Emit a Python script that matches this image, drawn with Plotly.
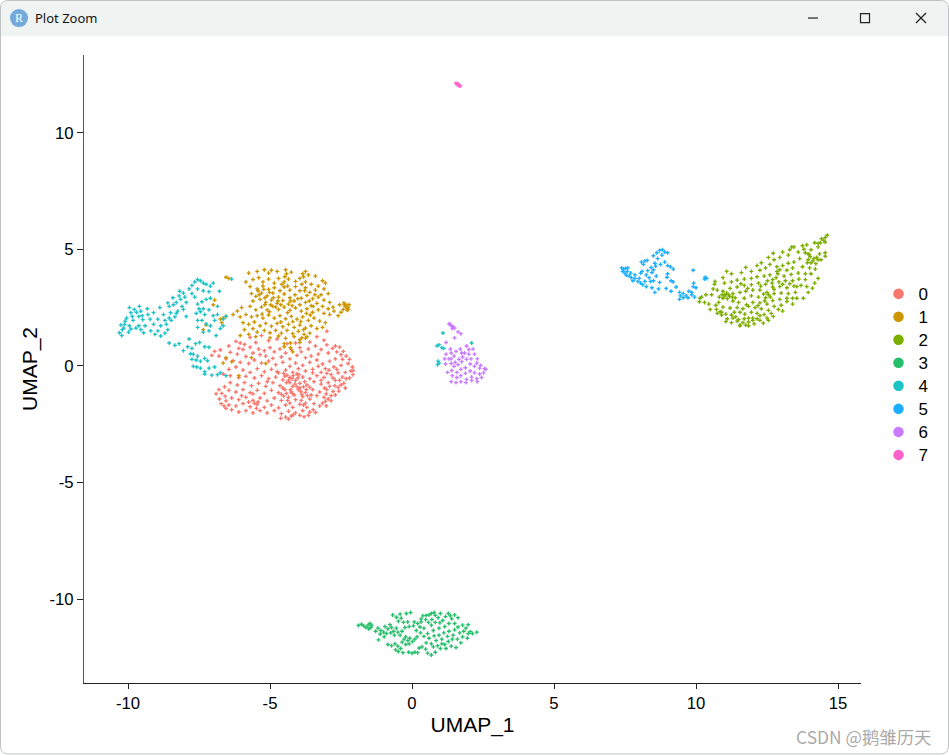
import plotly.graph_objects as go

# points, one list per cluster (UMAP_1, UMAP_2)
cluster_0 = [
    (-3.0,1.48),(-3.35,1.25),(-3.1,1.1),(-3.6,1.02),(-5.7,1.22),(-6.2,1.05),(-6.05,0.98),(-5.9,0.92),(-5.5,1.0),(-5.3,1.3),
    (-5.05,1.08),(-4.75,1.15),(-4.4,0.95),(-4.1,0.98),(-3.95,0.78),(-6.45,0.85),(-6.1,0.75),(-5.95,0.7),(-5.7,0.8),(-5.4,0.72),
    (-5.2,0.65),(-5.0,0.78),(-4.85,0.6),(-4.65,0.72),(-4.45,0.55),(-4.25,0.7),(-3.9,0.6),(-3.65,0.72),(-3.4,0.85),(-3.2,0.7),
    (-3.0,0.9),(-2.8,0.75),(-2.65,0.6),(-2.95,0.55),(-3.3,0.5),(-3.55,0.42),(-3.75,0.35),(-4.05,0.45),(-4.3,0.3),(-4.6,0.38),
    (-4.9,0.32),(-5.15,0.42),(-5.35,0.48),(-5.6,0.55),(-5.85,0.4),(-6.15,0.5),(-6.4,0.58),(-6.75,0.68),(-6.95,0.62),(-7.05,0.45),
    (-6.8,0.42),(-6.55,0.3),(-6.3,0.22),(-6.05,0.15),(-5.75,0.1),(-5.55,0.25),(-5.3,0.12),(-5.05,0.2),(-4.8,0.05),(-4.55,0.15),
    (-4.3,-0.02),(-4.1,0.12),(-3.85,0.02),(-3.6,0.15),(-3.35,0.25),(-3.15,0.08),(-2.9,0.2),(-2.7,0.3),(-2.45,0.28),(-2.25,0.1),
    (-2.5,0.02),(-2.75,-0.05),(-3.05,-0.12),(-3.3,-0.02),(-3.5,-0.15),(-3.75,-0.22),(-4.0,-0.12),(-4.2,-0.28),(-4.45,-0.18),(-4.7,-0.3),
    (-4.95,-0.15),(-5.2,-0.25),(-5.45,-0.12),(-5.7,-0.28),(-5.95,-0.18),(-6.2,-0.05),(-6.45,-0.15),(-6.65,-0.35),(-6.4,-0.42),(-6.1,-0.5),
    (-5.85,-0.45),(-5.55,-0.52),(-5.3,-0.42),(-5.05,-0.55),(-4.8,-0.48),(-4.55,-0.6),(-4.3,-0.5),(-4.1,-0.62),(-3.85,-0.48),(-3.6,-0.55),
    (-3.35,-0.42),(-3.1,-0.5),(-2.85,-0.38),(-2.6,-0.3),(-2.35,-0.28),(-2.15,-0.22),(-2.08,-0.38),(-2.2,-0.52),(-2.45,-0.48),(-2.7,-0.62),
    (-2.95,-0.72),(-3.2,-0.78),(-3.45,-0.68),(-3.7,-0.82),(-3.95,-0.75),(-4.2,-0.88),(-4.42,-0.72),(-4.65,-0.85),(-4.9,-0.72),(-5.15,-0.88),
    (-5.4,-0.75),(-5.65,-0.85),(-5.9,-0.72),(-6.15,-0.82),(-6.4,-0.72),(-6.6,-0.9),(-6.8,-1.02),(-6.9,-1.2),(-6.7,-1.18),(-6.45,-1.05),
    (-6.2,-1.12),(-5.95,-1.02),(-5.7,-1.15),(-5.45,-1.05),(-5.2,-1.18),(-4.95,-1.05),(-4.7,-1.15),(-4.48,-1.02),(-4.25,-1.12),(-4.0,-1.02),
    (-3.75,-1.15),(-3.5,-1.02),(-3.25,-1.12),(-3.0,-1.02),(-2.78,-1.1),(-2.6,-0.92),(-2.85,-1.28),(-3.1,-1.35),(-3.35,-1.28),(-3.6,-1.42),
    (-3.85,-1.32),(-4.1,-1.45),(-4.35,-1.35),(-4.6,-1.48),(-4.85,-1.38),(-5.1,-1.5),(-5.35,-1.38),(-5.6,-1.48),(-5.85,-1.35),(-6.1,-1.45),
    (-6.35,-1.38),(-6.55,-1.5),(-6.78,-1.42),(-6.72,-1.62),(-6.45,-1.68),(-6.2,-1.72),(-5.95,-1.62),(-5.7,-1.75),(-5.45,-1.65),(-5.2,-1.78),
    (-4.95,-1.68),(-4.7,-1.8),(-4.45,-1.68),(-4.2,-1.78),(-3.95,-1.65),(-3.7,-1.78),(-3.45,-1.62),(-3.25,-1.72),(-3.6,-1.98),(-3.85,-1.92),
    (-4.1,-2.02),(-4.35,-1.95),(-4.6,-2.05),(-4.85,-1.92),(-5.1,-2.02),(-5.35,-1.92),(-5.6,-2.02),(-5.85,-1.92),(-6.1,-1.98),(-4.62,-2.25),
    (-4.45,-2.2),(-4.35,-2.28),(-3.95,-2.12),(-3.8,-2.18),(-3.65,-2.12),(-4.05,-0.35),(-3.95,-0.95),(-4.15,-1.25),(-4.3,-1.6),(-3.5,-0.3),
    (-2.9,-0.88),(-2.4,-0.75),(-3.2,-0.28),(-5.6,-1.2),(-5.1,-0.68),(-4.75,-0.25),(-6.0,-1.28),(-3.75,-1.6),(-3.05,-1.52),(-2.65,-0.15),
    # denser clumps in the middle and along the bottom edge
    (-4.52,-0.32),(-4.48,-0.44),(-4.4,-0.4),(-4.35,-0.62),(-4.3,-0.72),(-4.22,-0.55),(-4.18,-0.42),(-4.12,-0.78),(-4.05,-0.9),(-4.02,-0.52),
    (-3.98,-0.38),(-3.92,-1.1),(-3.88,-1.22),(-3.82,-0.9),(-3.78,-0.68),(-3.72,-1.02),(-3.68,-1.28),(-3.6,-0.92),(-4.28,-1.02),(-4.22,-1.18),
    (-4.55,-0.95),(-4.6,-1.22),(-4.52,-1.3),(-4.42,-1.18),(-4.38,-1.48),(-3.9,-1.48),(-3.82,-1.68),(-3.55,-1.25),(-3.48,-1.88),(-3.4,-2.0),
    (-5.55,-1.6),(-5.48,-1.82),(-5.42,-1.55),(-5.75,-1.55),(-6.58,-1.3),(-6.62,-1.72),(-6.55,-1.82),(-6.35,-1.88),(-2.72,-0.85),(-2.78,-0.52),
    (-2.55,-0.62),(-2.5,-0.82),(-2.32,-0.55),(-3.0,-0.32),(-2.92,-0.18),(-3.2,-0.62),(-3.08,-0.95),(-3.02,-1.2),(-4.18,-2.1),(-4.25,-2.15),
    # rounder right edge
    (-2.7,0.85),(-2.55,0.8),(-2.42,0.62),(-2.5,0.48),(-2.32,0.42),(-2.2,0.28),(-2.1,-0.05),(-2.07,-0.2),(-2.85,-1.5),(-2.95,-1.42),
    (-2.7,-1.25),(-2.58,-1.08),(-2.35,-0.95),(-3.15,-1.6),(-3.02,-1.72),
]

cluster_1 = [
    (-5.75,3.98),(-5.45,4.05),(-5.2,4.12),(-5.05,3.98),(-4.95,4.1),(-4.75,4.05),(-4.45,4.12),(-4.25,4.02),(-3.85,3.95),(-3.75,4.05),
    (-3.65,3.9),(-3.4,3.85),(-3.05,3.55),(-3.15,3.65),(-5.85,3.6),(-5.6,3.7),(-5.4,3.78),(-5.25,3.6),(-5.05,3.72),(-4.85,3.55),
    (-4.7,3.75),(-4.5,3.6),(-4.35,3.72),(-4.1,3.62),(-3.95,3.75),(-3.75,3.6),(-3.55,3.5),(-3.3,3.42),(-3.1,3.3),(-2.95,3.1),
    (-5.7,3.4),(-5.45,3.3),(-5.25,3.42),(-5.05,3.28),(-4.85,3.35),(-4.65,3.22),(-4.5,3.38),(-4.3,3.25),(-4.1,3.4),(-3.95,3.22),
    (-3.75,3.35),(-3.6,3.15),(-3.4,3.25),(-3.2,3.05),(-5.65,3.1),(-5.5,2.98),(-5.3,3.12),(-5.1,3.0),(-4.9,3.12),(-4.7,2.95),
    (-4.5,3.08),(-4.3,2.92),(-4.12,3.05),(-3.9,2.9),(-3.7,3.02),(-3.5,2.88),(-3.3,2.95),(-3.1,2.82),(-2.9,2.72),(-5.6,2.78),
    (-5.35,2.85),(-5.15,2.72),(-4.95,2.82),(-4.75,2.68),(-4.55,2.8),(-4.35,2.65),(-4.15,2.78),(-3.95,2.62),(-3.75,2.72),(-3.55,2.58),
    (-3.35,2.68),(-3.15,2.55),(-2.95,2.45),(-2.78,2.52),(-2.55,2.62),(-2.4,2.7),(-2.35,2.55),(-2.25,2.5),(-2.42,2.42),(-2.28,2.38),
    (-2.22,2.62),(-2.5,2.3),(-2.6,2.15),(-5.7,2.55),(-5.5,2.4),(-5.3,2.52),(-5.1,2.4),(-4.9,2.55),(-4.7,2.42),(-4.5,2.52),
    (-4.3,2.38),(-4.1,2.48),(-3.9,2.35),(-3.7,2.45),(-3.5,2.3),(-3.3,2.4),(-3.1,2.25),(-2.9,2.2),(-6.55,3.8),(-6.45,3.75),
    (-6.0,2.5),(-6.15,2.35),(-6.3,2.2),(-6.55,2.12),(-6.75,2.0),(-6.7,1.85),(-6.05,2.1),(-5.85,2.2),(-5.65,2.1),(-5.45,2.15),
    (-5.25,2.05),(-5.05,2.18),(-4.85,2.05),(-4.65,2.15),(-4.45,2.02),(-4.25,2.12),(-4.05,2.0),(-3.85,2.1),(-3.65,1.95),(-3.45,2.05),
    (-3.25,1.92),(-3.05,1.85),(-5.95,1.85),(-5.75,1.78),(-5.55,1.88),(-5.35,1.72),(-5.15,1.82),(-4.95,1.7),(-4.75,1.82),(-4.55,1.68),
    (-4.35,1.78),(-4.15,1.65),(-3.95,1.75),(-3.75,1.62),(-3.55,1.72),(-3.35,1.6),(-3.15,1.65),(-5.9,1.55),(-5.6,1.6),(-5.45,1.45),
    (-5.2,1.52),(-5.0,1.42),(-4.8,1.52),(-4.6,1.4),(-4.4,1.52),(-4.2,1.38),(-4.0,1.48),(-3.8,1.35),(-3.6,1.4),(-6.05,1.3),
    (-5.75,1.35),(-5.5,1.25),(-5.0,1.2),(-4.7,1.28),(-4.45,1.18),(-4.15,1.25),(-3.95,1.12),(-3.75,1.18),(-4.5,0.95),(-4.28,0.98),
    (-4.28,0.78),(-4.5,0.82),(-4.2,0.6),(-6.55,0.35),(-6.65,0.12),(-6.35,0.18),(-5.65,0.35),(-5.15,0.1),(-6.1,-0.42),(-3.95,1.0),
    (-7.0,2.62),(-6.95,2.82),(-6.65,2.05),(-7.35,1.55),(-7.25,1.75),
    # clumps in the upper part of the cluster
    (-5.42,3.22),(-5.38,3.05),(-5.22,3.28),(-5.18,2.92),(-5.02,3.15),(-4.98,2.62),(-4.88,2.92),(-4.8,2.52),(-4.72,2.78),(-4.62,2.62),
    (-4.58,3.5),(-4.48,3.82),(-4.42,3.95),(-4.38,3.42),(-4.28,2.78),(-4.22,2.58),(-4.02,2.88),(-3.88,3.5),(-3.82,3.82),(-3.78,3.22),
    (-3.72,2.25),(-3.62,2.78),(-3.58,2.18),(-3.48,2.55),(-3.42,3.05),(-3.92,1.9),(-3.82,1.55),(-3.7,1.25),(-3.88,1.2),(-4.62,1.88),
    (-2.32,2.62),(-2.3,2.48),(-2.24,2.42),(-2.38,2.62),(-2.75,2.35),(-5.02,2.32),(-5.18,2.62),(-5.28,2.22),(-4.38,2.28),(-4.2,1.9),
]

cluster_2 = [
    (14.62,5.6),(14.55,5.5),(14.5,5.38),(14.42,5.45),(14.38,5.28),(14.55,5.3),(14.3,5.1),(13.45,5.1),(13.8,5.0),(14.05,4.98),
    (13.6,4.88),(13.25,4.75),(12.95,4.65),(13.3,4.98),(14.55,4.85),(14.55,4.7),(14.35,4.8),(14.25,4.65),(14.3,4.55),(14.15,4.6),
    (14.02,4.68),(13.95,4.55),(14.4,4.55),(13.85,4.85),(13.65,4.6),(13.45,4.45),(13.25,4.4),(13.05,4.3),(12.85,4.25),(12.75,4.55),
    (12.6,4.35),(12.45,4.2),(12.25,4.1),(12.95,4.12),(13.2,4.1),(13.4,4.2),(13.75,4.25),(14.0,4.2),(14.2,4.15),(14.05,3.95),
    (13.85,3.95),(13.6,3.98),(13.35,3.92),(13.1,3.85),(12.88,3.95),(12.6,3.9),(12.4,3.85),(12.15,3.82),(11.95,3.75),(11.7,3.72),
    (11.45,3.68),(11.25,3.6),(11.0,3.55),(12.7,3.7),(12.92,3.6),(13.15,3.65),(13.4,3.65),(13.62,3.72),(13.85,3.7),(13.7,3.45),
    (13.45,3.42),(13.2,3.35),(12.95,3.4),(12.7,3.38),(12.45,3.5),(12.2,3.55),(11.95,3.48),(11.7,3.45),(11.45,3.38),(11.2,3.32),
    (10.95,3.2),(10.75,3.25),(10.55,3.05),(10.6,3.3),(10.35,3.05),(10.2,2.95),(10.12,2.75),(11.0,3.05),(11.15,3.05),(11.3,3.1),
    (10.95,2.9),(11.1,2.88),(11.3,2.78),(11.55,3.15),(11.75,3.2),(12.0,3.25),(12.25,3.25),(12.5,3.15),(12.75,3.1),(13.0,3.12),
    (13.25,3.1),(13.5,3.15),(13.2,2.9),(12.95,2.85),(12.7,2.8),(12.45,2.92),(12.2,2.95),(11.95,3.0),(11.7,2.9),(11.5,2.72),
    (12.0,2.72),(12.25,2.7),(12.5,2.65),(12.75,2.55),(13.0,2.6),(12.55,2.38),(12.3,2.45),(12.08,2.5),(11.85,2.55),(11.65,2.45),
    (11.45,2.5),(11.2,2.48),(10.95,2.52),(10.7,2.6),(10.45,2.65),(10.3,2.72),(10.5,2.42),(10.72,2.42),(10.9,2.3),(11.05,2.22),
    (10.9,2.18),(10.75,2.25),(10.85,2.32),(11.25,2.18),(11.4,2.1),(11.55,2.3),(11.72,2.22),(11.95,2.3),(12.15,2.25),(12.4,2.2),
    (12.15,2.02),(12.0,2.05),(11.85,2.05),(11.7,2.02),(11.5,1.98),(11.3,2.05),(11.1,2.02),(11.05,1.9),(11.25,1.85),(11.45,1.92),
    (11.65,1.85),(11.85,1.88),(12.05,1.8),(12.0,1.95),(11.75,1.75),(11.55,1.75),(11.55,1.72),(11.85,1.72),(12.25,1.95),(12.5,2.05),
    (11.35,2.3),(10.65,3.5),(10.95,3.78),(11.25,3.95),(11.6,4.0),(11.75,4.22),(11.95,4.05),(12.3,4.42),(12.55,4.65),(12.15,4.3),
    (13.05,4.88),(13.75,5.15),(13.95,4.8),(14.18,5.28),(14.3,5.25),(12.75,3.28),(13.9,3.4),(13.4,2.9),(13.55,3.4),(12.85,4.05),
    (11.02,3.0),(11.08,3.12),(11.18,2.98),(11.28,2.95),(10.92,3.05),(10.82,2.95),(12.55,3.05),(12.62,2.95),(12.38,3.08),(12.68,3.55),
    (13.92,4.42),(14.05,4.42),(14.12,4.5),(14.22,4.38),(13.98,4.78),(12.82,3.78),(12.52,3.65),(12.28,3.42),(11.82,3.32),(11.58,3.52),
    (12.42,2.78),(12.18,2.58),(11.78,2.62),(11.38,2.92),(10.8,2.72),(13.3,3.52),(13.05,3.5),(12.9,2.42),(12.65,2.25),(12.25,2.15),
    # lower right edge and top edge
    (14.1,3.33),(13.78,2.9),(13.55,2.9),(13.2,2.76),(12.72,2.12),(12.37,1.83),(13.95,3.15),(13.4,2.65),(13.05,2.35),(12.55,1.95),
    (13.37,5.1),(13.9,5.19),(12.72,4.83),(11.08,4.05),(10.67,3.62),(10.14,2.9),(14.3,3.75),(14.18,3.55),
]

cluster_3 = [
    (-1.89,-11.13),(-1.78,-11.08),(-1.7,-11.15),(-1.62,-11.22),(-1.55,-11.12),(-1.52,-11.28),(-1.48,-11.05),(-1.42,-11.12),(-1.45,-11.22),(-1.28,-11.38),
    (-1.12,-11.5),(-1.2,-11.25),(-1.1,-11.35),(-1.0,-11.42),(-0.95,-11.18),(-0.85,-11.28),(-0.78,-11.1),(-0.72,-11.22),(-0.9,-11.48),(-0.75,-11.45),
    (-0.65,-11.38),(-0.55,-11.25),(-0.5,-11.42),(-0.62,-11.55),(-0.42,-11.55),(-0.35,-11.38),(-1.18,-11.75),(-0.85,-11.95),(-0.72,-12.0),(-0.6,-11.92),
    (-0.5,-12.02),(-0.58,-12.18),(-0.48,-12.25),(-0.4,-12.12),(-0.35,-11.85),(-0.28,-11.72),(-0.22,-11.62),(-0.15,-11.78),(-0.08,-11.68),(-0.22,-11.95),
    (-0.1,-11.92),(0.02,-11.82),(0.1,-11.72),(-0.32,-12.3),(-0.12,-12.28),(0.0,-12.32),(0.1,-12.28),(0.2,-12.3),(-0.68,-10.68),(-0.55,-10.78),
    (-0.42,-10.65),(-0.38,-10.82),(-0.48,-10.95),(-0.3,-11.0),(-0.15,-10.98),(-0.2,-10.62),(-0.05,-10.58),(0.08,-10.98),(0.05,-11.15),(-0.1,-11.18),
    (0.2,-11.05),(0.32,-10.85),(0.28,-11.2),(0.15,-11.35),(0.3,-11.45),(0.42,-11.25),(0.48,-10.88),(0.38,-10.72),(0.5,-10.7),(0.6,-10.68),
    (0.68,-10.62),(0.78,-10.58),(0.82,-10.7),(0.92,-10.8),(0.7,-10.88),(0.58,-11.0),(0.68,-11.12),(0.82,-11.0),(0.98,-11.02),(1.08,-10.92),
    (1.18,-10.75),(1.28,-10.62),(1.35,-10.72),(1.5,-10.68),(1.4,-10.85),(1.62,-10.8),(1.5,-11.05),(1.3,-11.05),(1.15,-11.18),(0.95,-11.25),
    (0.75,-11.35),(0.55,-11.48),(0.42,-11.6),(0.6,-11.68),(0.78,-11.58),(0.95,-11.55),(1.12,-11.45),(1.3,-11.38),(1.5,-11.32),(1.62,-11.2),
    (1.78,-11.12),(1.9,-11.25),(1.98,-11.1),(2.05,-11.4),(1.98,-11.48),(2.13,-11.48),(2.28,-11.42),(1.82,-11.38),(1.68,-11.45),(1.45,-11.55),
    (1.25,-11.6),(1.05,-11.72),(0.85,-11.78),(0.68,-11.92),(0.5,-11.88),(0.75,-12.05),(0.9,-12.0),(1.05,-11.92),(1.28,-11.82),(1.42,-11.72),
    (1.6,-11.72),(1.78,-11.62),(1.95,-11.68),(0.35,-12.05),(0.25,-12.1),(0.48,-12.15),(0.55,-12.32),(0.68,-12.4),(0.82,-12.28),(1.0,-12.12),
    (1.2,-12.12),(1.38,-12.02),(1.55,-12.08),(1.72,-11.88),(1.15,-11.95),(0.18,-11.62),(-0.98,-11.62),(-0.25,-11.22),(0.32,-10.98),(1.0,-10.62),
]

cluster_4 = [
    (-10.3,1.42),(-10.2,1.55),(-10.22,1.3),(-10.15,1.62),(-10.25,1.75),(-10.12,1.78),(-10.1,1.92),(-10.05,2.05),(-9.95,1.72),(-9.98,1.45),
    (-9.9,1.58),(-9.82,1.95),(-9.72,1.62),(-9.85,2.12),(-9.9,2.28),(-9.95,2.5),(-9.78,2.42),(-9.7,2.3),(-9.6,2.55),(-9.55,2.35),
    (-9.62,2.12),(-9.5,2.15),(-9.48,1.98),(-9.62,1.72),(-9.55,1.55),(-9.4,1.72),(-9.45,1.42),(-9.32,2.45),(-9.3,2.2),(-9.22,2.0),
    (-9.1,1.78),(-9.2,1.5),(-9.05,1.35),(-8.95,1.5),(-8.85,1.28),(-8.7,1.4),(-8.6,1.55),(-8.95,2.0),(-9.1,2.28),(-8.88,2.5),
    (-8.75,2.2),(-8.7,1.95),(-8.65,1.78),(-8.85,1.72),(-8.55,2.05),(-8.5,2.28),(-8.55,2.55),(-8.48,1.95),(-8.35,2.1),(-8.6,2.7),
    (-8.42,2.92),(-8.4,2.62),(-8.3,2.72),(-8.2,3.0),(-8.15,2.85),(-8.05,3.12),(-8.18,3.2),(-8.0,2.95),(-7.95,2.72),(-8.1,2.55),
    (-8.25,2.35),(-8.3,2.25),(-8.05,2.42),(-7.95,2.12),(-7.75,3.45),(-7.65,3.6),(-7.55,3.7),(-7.45,3.65),(-7.35,3.55),(-7.25,3.5),
    (-7.1,3.42),(-7.0,3.55),(-7.85,3.3),(-7.75,3.1),(-7.55,3.3),(-7.35,3.22),(-7.15,3.18),(-6.78,3.2),(-7.65,2.95),(-7.55,2.65),
    (-7.4,2.75),(-7.25,2.85),(-7.1,2.9),(-7.5,2.45),(-7.35,2.45),(-7.6,2.25),(-7.45,2.32),(-7.3,2.2),(-7.15,2.4),(-7.0,2.15),
    (-6.85,2.55),(-6.85,2.2),(-6.65,2.0),(-7.55,1.95),(-7.4,1.95),(-7.25,1.8),(-7.55,1.65),(-7.35,1.45),(-7.1,1.72),(-7.15,1.5),
    (-6.95,1.95),(-6.55,2.12),(-6.9,1.3),(-7.85,1.15),(-8.55,0.98),(-8.35,0.88),(-8.2,0.95),(-8.05,0.65),(-7.9,0.82),(-7.75,0.75),
    (-7.62,0.95),(-7.48,1.0),(-7.3,0.82),(-7.15,0.8),(-7.7,0.5),(-7.55,0.42),(-7.75,0.28),(-7.6,0.25),(-7.45,0.2),(-7.3,0.32),
    (-7.2,0.22),(-7.8,0.52),(-7.58,-0.05),(-7.45,-0.1),(-7.7,-0.02),(-7.3,-0.25),(-7.15,-0.1),(-6.95,-0.05),(-6.75,-0.3),(-6.85,-0.38),
    (-7.05,-0.4),(-7.3,-0.35),(-6.55,-0.42),(-6.65,1.72),(-6.75,1.6),(-6.35,3.72),
    (1.09,1.41),(0.88,0.86),(0.95,0.9),(1.05,0.78),(1.12,0.75),(0.92,0.2),(0.95,0.12),(0.9,0.05),(2.1,0.98),
]

cluster_5 = [
    (7.38,4.2),(7.45,4.15),(7.52,4.18),(7.6,4.2),(7.42,4.05),(7.5,3.98),(7.58,4.05),(7.55,3.88),(7.65,3.85),(7.7,3.98),
    (7.72,3.78),(7.78,3.65),(7.85,3.75),(7.85,3.9),(7.95,3.62),(8.0,3.75),(8.05,3.55),(8.12,3.48),(8.2,3.62),(8.25,3.4),
    (8.05,3.98),(8.1,4.05),(8.08,4.45),(8.2,4.5),(8.28,4.52),(8.15,4.35),(8.3,4.08),(8.25,3.9),(8.35,3.78),(8.42,4.22),
    (8.45,4.0),(8.5,4.12),(8.4,3.62),(8.5,3.65),(8.45,3.35),(8.55,3.15),(8.68,3.3),(8.72,3.58),(8.6,3.85),(8.55,4.4),
    (8.58,4.28),(8.65,4.6),(8.5,4.72),(8.62,4.85),(8.72,4.95),(8.82,4.98),(8.9,4.88),(9.0,4.85),(8.8,4.75),(8.9,4.45),
    (8.75,4.35),(9.0,4.3),(9.1,4.25),(9.2,4.15),(9.0,3.95),(8.98,3.8),(9.12,3.65),(9.2,3.6),(8.95,3.32),(9.12,3.2),
    (9.3,3.38),(9.42,3.15),(9.45,3.0),(9.55,3.1),(9.55,2.92),(9.65,3.0),(9.75,3.2),(9.85,3.15),(9.9,3.4),(9.92,3.55),
    (9.85,3.05),(9.95,2.95),(10.0,3.35),(9.72,2.92),(9.42,2.85),(10.32,3.8),(10.38,3.75),(10.3,3.72),(9.9,4.1),
]

cluster_6 = [
    (1.3,1.8),(1.38,1.72),(1.35,1.78),(1.45,1.68),(1.42,1.6),(1.5,1.62),(1.62,1.46),(1.72,1.38),(1.5,1.2),(1.2,1.0),
    (1.35,0.72),(1.38,0.55),(1.2,0.5),(1.3,0.3),(1.15,0.3),(1.38,0.3),(1.48,0.42),(1.55,0.62),(1.7,0.72),(1.75,0.55),
    (1.92,0.85),(2.0,0.7),(2.15,0.72),(1.85,0.55),(2.0,0.5),(2.2,0.5),(2.3,0.3),(1.78,0.38),(1.65,0.28),(1.52,0.15),
    (1.38,0.1),(1.48,-0.02),(1.62,0.05),(1.75,0.18),(1.92,0.28),(2.08,0.3),(2.28,0.12),(2.42,0.02),(2.55,-0.12),(2.38,-0.1),
    (2.2,-0.02),(2.05,0.08),(1.88,-0.08),(1.72,-0.15),(1.58,-0.28),(1.4,-0.2),(1.25,-0.28),(1.42,-0.42),(1.58,-0.5),(1.72,-0.42),
    (1.88,-0.32),(2.05,-0.22),(2.2,-0.3),(2.38,-0.35),(2.52,-0.3),(2.6,-0.15),(2.45,-0.5),(2.28,-0.55),(2.1,-0.48),(1.92,-0.58),
    (1.72,-0.68),(1.55,-0.72),(1.38,-0.68),(1.9,-0.72),(2.1,-0.62),(2.3,-0.68),(1.18,0.08),
]

cluster_7 = [(1.55,12.12),(1.6,12.05),(1.65,12.02),(1.7,12.0),(1.62,12.1)]

clusters = [cluster_0, cluster_1, cluster_2, cluster_3, cluster_4, cluster_5, cluster_6, cluster_7]
cluster_names = ["0", "1", "2", "3", "4", "5", "6", "7"]
cluster_colors = ["#F8766D", "#CD9600", "#7CAE00", "#25BE6A", "#1CC2C6", "#1DAEFF", "#C77CFF", "#FF61CC"]

x_ticks = [-10, -5, 0, 5, 10, 15]
x_tick_labels = ["-10", "-5", "0", "5", "10", "15"]
y_ticks = [-10, -5, 0, 5, 10]
y_tick_labels = ["-10", "-5", "0", "5", "10"]

# plot area in page pixels, the rest of the page is the window around it
WIDTH, HEIGHT = 949, 755
LEFT, RIGHT, TOP, BOTTOM = 84, 861, 55, 683.5


def px(x):
    return (x - LEFT) / (RIGHT - LEFT)


def py(y):
    return 1 - (y - TOP) / (BOTTOM - TOP)


def line(x0, y0, x1, y1, color="#222222", width=1.2):
    return dict(type="line", xref="paper", yref="paper", x0=px(x0), y0=py(y0), x1=px(x1), y1=py(y1),
                line=dict(color=color, width=width), layer="above")


def window_path(r_top, r_bottom):
    w, h = 948.5, 754.5
    p = 0.5
    return (f"M {px(p)} {py(r_top)} Q {px(p)} {py(p)} {px(r_top)} {py(p)} "
            f"L {px(w - r_top)} {py(p)} Q {px(w)} {py(p)} {px(w)} {py(r_top)} "
            f"L {px(w)} {py(h - r_bottom)} Q {px(w)} {py(h)} {px(w - r_bottom)} {py(h)} "
            f"L {px(r_bottom)} {py(h)} Q {px(p)} {py(h)} {px(p)} {py(h - r_bottom)} Z")


def bar_path(r_top):
    w = 948
    return (f"M {px(1)} {py(36)} L {px(1)} {py(r_top)} Q {px(1)} {py(1)} {px(r_top)} {py(1)} "
            f"L {px(w - r_top)} {py(1)} Q {px(w)} {py(1)} {px(w)} {py(r_top)} L {px(w)} {py(36)} Z")


fig = go.Figure()

for points, name, color in zip(clusters, cluster_names, cluster_colors):
    fig.add_trace(go.Scatter(x=[p[0] for p in points], y=[p[1] for p in points], mode='markers',
                             marker=dict(symbol='cross', size=3.3, color=color, line=dict(width=0)),
                             showlegend=False, hoverinfo='skip'))

# legend keys are bigger than the points
for name, color in zip(cluster_names, cluster_colors):
    fig.add_trace(go.Scatter(x=[None], y=[None], mode='markers',
                             name=f'<span style="font-size:17px">{name}</span>',
                             marker=dict(symbol='circle', size=10.5, color=color)))

# the window around the plot
shapes = [
    dict(type="path", xref="paper", yref="paper", path=bar_path(8),
         fillcolor="#EFF3F2", line=dict(width=0), layer="below"),
    dict(type="path", xref="paper", yref="paper", path=window_path(8, 8),
         fillcolor="rgba(0,0,0,0)", line=dict(color="#BFC3C3", width=1), layer="above"),
    dict(type="circle", xref="paper", yref="paper", x0=px(10), y0=py(27), x1=px(28), y1=py(9),
         fillcolor="#74A9DC", line=dict(width=0), layer="above"),
    line(808, 18, 818, 18),
    dict(type="rect", xref="paper", yref="paper", x0=px(860.5), y0=py(22.5), x1=px(869.5), y1=py(13.5),
         fillcolor="rgba(0,0,0,0)", line=dict(color="#222222", width=1.2), layer="above"),
    line(916, 13, 926, 23),
    line(926, 13, 916, 23),
]

annotations = [
    dict(text="Plot Zoom", xref="paper", yref="paper", x=px(33), y=py(18), xanchor="left", yanchor="middle",
         showarrow=False, font=dict(family="Noto Sans", size=13, color="#111111")),
    dict(text="R", xref="paper", yref="paper", x=px(19), y=py(18), xanchor="center", yanchor="middle",
         showarrow=False, font=dict(family="Liberation Serif", size=12, color="#FFFFFF")),
    dict(text="CSDN @鹅雏历天", xref="paper", yref="paper", x=px(933), y=py(737), xanchor="right", yanchor="middle",
         showarrow=False, font=dict(family="Noto Sans CJK SC", size=17.4, color="rgba(130,130,130,0.7)")),
]

fig.update_layout(
    width=WIDTH,
    height=HEIGHT,
    autosize=False,
    margin=dict(l=LEFT, r=WIDTH - RIGHT, t=TOP, b=HEIGHT - BOTTOM, pad=0, autoexpand=False),
    paper_bgcolor='white',
    plot_bgcolor='white',
    font=dict(family="Liberation Sans", color="#000000"),
    shapes=shapes,
    annotations=annotations,
    legend=dict(x=px(878.5), xanchor='left', y=py(375), yanchor='middle', font=dict(size=15.4),
                bgcolor='rgba(0,0,0,0)', borderwidth=0),
)
fig.update_xaxes(range=[-11.55, 15.81], tickvals=x_ticks, ticktext=x_tick_labels, showgrid=False, zeroline=False,
                 showline=True, linecolor='#222222', linewidth=1.2, ticks='outside', ticklen=5, tickwidth=1.1,
                 tickcolor='#222222', tickfont=dict(size=16.7),
                 title=dict(text='UMAP_1', font=dict(size=21), standoff=5))
fig.update_yaxes(range=[-13.6, 13.33], tickvals=y_ticks, ticktext=y_tick_labels, showgrid=False, zeroline=False,
                 showline=True, linecolor='#555555', linewidth=1.2, ticks='outside', ticklen=6, tickwidth=1.1,
                 tickcolor='#222222', tickfont=dict(size=16.7),
                 title=dict(text='UMAP_2', font=dict(size=21), standoff=6))

# the page's default margin would push everything 8px down and right
fig.write_html("out.html", config=dict(displayModeBar=False), post_script="document.body.style.margin='0';")
